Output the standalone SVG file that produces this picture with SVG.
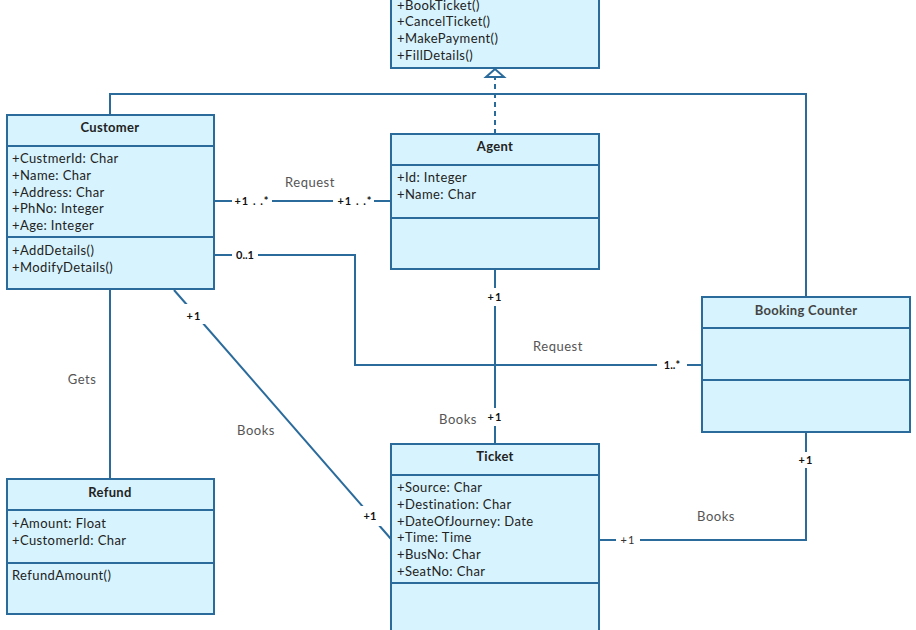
<svg xmlns="http://www.w3.org/2000/svg" width="916" height="630" viewBox="0 0 916 630">
<style>
.box{fill:#d7f4fe;stroke:#2a6b9c;stroke-width:2}
.div{stroke:#2a6b9c;stroke-width:2}
.t{font-family:Lato,"Open Sans","Liberation Sans",sans-serif;font-size:13px;letter-spacing:0.4px;fill:#222}
.h{font-family:Lato,"Open Sans","Liberation Sans",sans-serif;font-size:13px;letter-spacing:0.3px;font-weight:bold;fill:#222;text-anchor:middle}
.c{fill:none;stroke:#2a6b9c;stroke-width:2}
.lbl{font-family:Lato,"Open Sans","Liberation Sans",sans-serif;font-size:13px;letter-spacing:0.5px;fill:#555;text-anchor:middle}
.m{font-family:Lato,"Open Sans","Liberation Sans",sans-serif;font-size:11px;letter-spacing:1px;font-weight:bold;fill:#111;text-anchor:middle}
.bg{fill:#fff}
</style>
<rect width="916" height="630" fill="#fff"/>
<g id="connectors">
<path class="c" d="M110,115 V94 H806 V297"/>
<path class="c" d="M495,134 V78" stroke-dasharray="5,4"/>
<path d="M495,69 L486,77 H504 Z" fill="#fff" stroke="#2a6b9c" stroke-width="2"/>
<path class="c" d="M214,201 H391"/>
<path class="c" d="M214,255 H355 V365 H702"/>
<path class="c" d="M110,289 V479"/>
<path class="c" d="M174,290 L391,539"/>
<path class="c" d="M495,269 V444" stroke-width="1.5"/>
<path class="c" d="M599,540 H806 V432"/>
<rect class="bg" x="232" y="194" width="40" height="14"/>
<rect class="bg" x="333" y="194" width="41" height="14"/>
<text class="m" x="252" y="205">+1 . .*</text>
<text class="m" x="355" y="205">+1 . .*</text>
<text class="lbl" x="310" y="187">Request</text>
<rect class="bg" x="232" y="248" width="26" height="14"/>
<text class="m" x="245" y="259" style="letter-spacing:0">0..1</text>
<rect class="bg" x="657" y="358" width="30" height="14"/>
<text class="m" x="672" y="369" style="letter-spacing:0">1..*</text>
<text class="lbl" x="558" y="351">Request</text>
<text class="lbl" x="82" y="384">Gets</text>
<rect class="bg" x="182" y="304" width="24" height="20"/>
<text class="m" x="194" y="320">+1</text>
<rect class="bg" x="358" y="506" width="24" height="20"/>
<text class="m" x="370" y="520" style="letter-spacing:0">+1</text>
<text class="lbl" x="256" y="435">Books</text>
<rect class="bg" x="484" y="288" width="22" height="18"/>
<text class="m" x="495" y="301">+1</text>
<rect class="bg" x="484" y="408" width="22" height="18"/>
<text class="m" x="495" y="421">+1</text>
<text class="lbl" x="458" y="424">Books</text>
<rect class="bg" x="616" y="533" width="24" height="14"/>
<text class="m" x="628" y="544" style="font-weight:normal;fill:#333">+1</text>
<rect class="bg" x="795" y="452" width="22" height="16"/>
<text class="m" x="806" y="464">+1</text>
<text class="lbl" x="716" y="521">Books</text>
</g>
<g id="interface">
<rect class="box" x="391" y="-20" width="208" height="88"/>
<text class="t" x="397" y="10">+BookTicket()</text>
<text class="t" x="397" y="26">+CancelTicket()</text>
<text class="t" x="397" y="43">+MakePayment()</text>
<text class="t" x="397" y="60">+FillDetails()</text>
</g>
<g id="customer">
<rect class="box" x="7" y="115" width="207" height="174"/>
<line class="div" x1="7" y1="146" x2="214" y2="146"/>
<line class="div" x1="7" y1="237" x2="214" y2="237"/>
<text class="h" x="110" y="132">Customer</text>
<text class="t" x="12" y="163">+CustmerId: Char</text>
<text class="t" x="12" y="180">+Name: Char</text>
<text class="t" x="12" y="197">+Address: Char</text>
<text class="t" x="12" y="213">+PhNo: Integer</text>
<text class="t" x="12" y="230">+Age: Integer</text>
<text class="t" x="12" y="255">+AddDetails()</text>
<text class="t" x="12" y="272">+ModifyDetails()</text>
</g>
<g id="agent">
<rect class="box" x="391" y="134" width="208" height="135"/>
<line class="div" x1="391" y1="165" x2="599" y2="165"/>
<line class="div" x1="391" y1="218" x2="599" y2="218"/>
<text class="h" x="495" y="151">Agent</text>
<text class="t" x="397" y="182">+Id: Integer</text>
<text class="t" x="397" y="199">+Name: Char</text>
</g>
<g id="booking-counter">
<rect class="box" x="702" y="297" width="208" height="135"/>
<line class="div" x1="702" y1="328" x2="910" y2="328"/>
<line class="div" x1="702" y1="380" x2="910" y2="380"/>
<text class="h" x="806" y="315" style="fill:#444">Booking Counter</text>
</g>
<g id="refund">
<rect class="box" x="7" y="479" width="207" height="135"/>
<line class="div" x1="7" y1="510" x2="214" y2="510"/>
<line class="div" x1="7" y1="563" x2="214" y2="563"/>
<text class="h" x="110" y="497">Refund</text>
<text class="t" x="12" y="528">+Amount: Float</text>
<text class="t" x="12" y="545">+CustomerId: Char</text>
<text class="t" x="12" y="580">RefundAmount()</text>
</g>
<g id="ticket">
<rect class="box" x="391" y="444" width="208" height="200"/>
<line class="div" x1="391" y1="475" x2="599" y2="475"/>
<line class="div" x1="391" y1="583" x2="599" y2="583"/>
<text class="h" x="495" y="461">Ticket</text>
<text class="t" x="397" y="492">+Source: Char</text>
<text class="t" x="397" y="509">+Destination: Char</text>
<text class="t" x="397" y="526">+DateOfJourney: Date</text>
<text class="t" x="397" y="542">+Time: Time</text>
<text class="t" x="397" y="559">+BusNo: Char</text>
<text class="t" x="397" y="576">+SeatNo: Char</text>
</g>
</svg>
